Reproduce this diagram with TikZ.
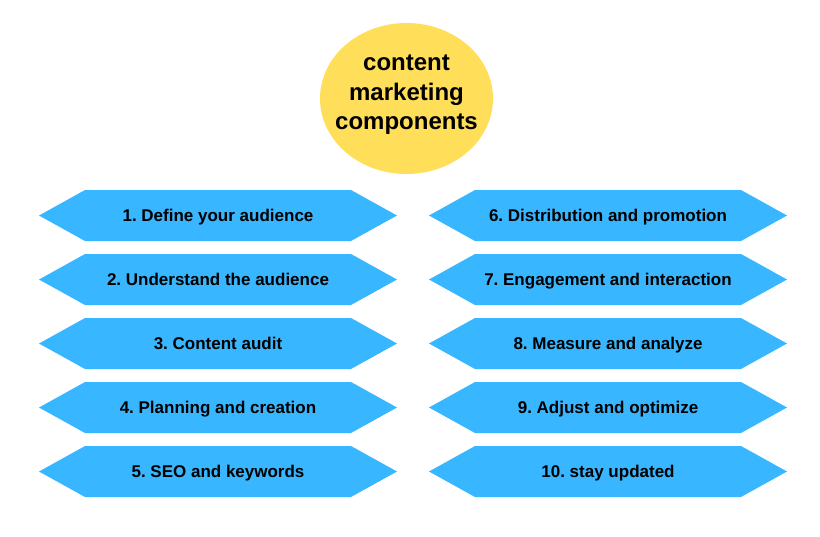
\documentclass[tikz,border=0pt]{standalone}
\usepackage{fontspec}
\setmainfont{Liberation Sans}
\usetikzlibrary{shapes.symbols}
\definecolor{hexblue}{HTML}{38B6FF}
\definecolor{capyellow}{HTML}{FFDE59}
\frenchspacing
\begin{document}
\begin{tikzpicture}[x=1pt,y=-1pt]

      \useasboundingbox (0,0) rectangle (820,536);

      \fill[capyellow] (406.5,98.5) ellipse (86.5 and 75.5);
      \node[align=center,inner sep=0pt,font=\fontsize{24}{29.5}\selectfont\bfseries]
        (title) at (406.5,95) {content\\marketing\\components};

      \begin{scope}[every node/.style={signal,signal to=west and east,fill=hexblue,
          minimum width=358pt,minimum height=51pt,signal pointer angle=58,
          inner sep=0pt,text depth=0pt,font=\fontsize{17}{18}\selectfont\bfseries}]
        \node (1)  at (218,215.5) {1. Define your audience};
        \node (2)  at (218,279.5) {2. Understand the audience};
        \node (3)  at (218,343.5) {3. Content audit};
        \node (4)  at (218,407.5) {4. Planning and creation};
        \node (5)  at (218,471.5) {5. SEO and keywords};
        \node (6)  at (608,215.5) {6. Distribution and promotion};
        \node (7)  at (608,279.5) {7. Engagement and interaction};
        \node (8)  at (608,343.5) {8. Measure and analyze};
        \node (9)  at (608,407.5) {9. Adjust and optimize};
        \node (10) at (608,471.5) {10. stay updated};
      \end{scope}

    \end{tikzpicture}
\end{document}
